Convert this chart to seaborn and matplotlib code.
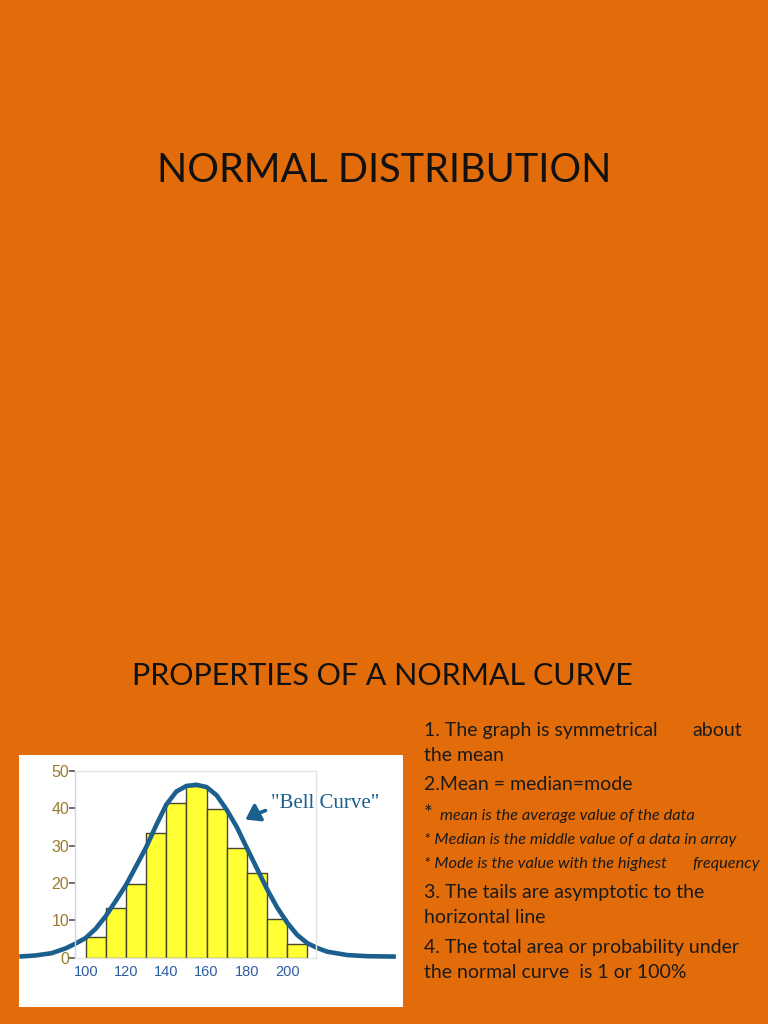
import matplotlib
matplotlib.use("Agg")
import matplotlib.pyplot as plt
from matplotlib.patches import Rectangle
import numpy as np
import pandas as pd
import seaborn as sns

# histogram (bin centre -> count)
bin_centres = [105, 115, 125, 135, 145, 155, 165, 175, 185, 195, 205]
counts = [5.5, 13.3, 19.7, 33.5, 41.3, 45.9, 39.7, 29.4, 22.7, 10.4, 3.8]
bin_edges = [100, 110, 120, 130, 140, 150, 160, 170, 180, 190, 200, 210]

# bell curve
curve_x = [67, 75, 83, 90, 95, 100, 105, 110, 115, 120, 125, 130, 135, 140,
           145, 150, 155, 160, 165, 170, 175, 180, 185, 190, 195, 200, 205,
           210, 215, 220, 230, 240, 254]
curve_y = [0.3, 0.6, 1.2, 2.5, 3.8, 5.3, 7.8, 11.2, 15.3, 19.5, 24.5, 29.6,
           35.5, 41.0, 44.5, 46.0, 46.3, 45.7, 43.5, 39.6, 35.0, 29.4, 23.9,
           18.4, 13.5, 9.4, 6.1, 3.9, 2.6, 1.6, 0.7, 0.4, 0.3]

x_ticks = [100, 120, 140, 160, 180, 200]
y_ticks = [0, 10, 20, 30, 40, 50]

title = "NORMAL DISTRIBUTION"
subtitle = "PROPERTIES OF A NORMAL CURVE"
body_lines = [
    ("1. The graph is symmetrical", "normal", 14, 736),
    ("the mean", "normal", 14, 761),
    ("2.Mean = median=mode", "normal", 14, 790),
    ("* Median is the middle value of a data in array", "italic", 11.8, 844),
    ("3. The tails are asymptotic to the", "normal", 14, 898),
    ("horizontal line", "normal", 14, 923),
    ("4. The total area or probability under", "normal", 14, 953),
    ("the normal curve  is 1 or 100%", "normal", 14, 978),
]

ORANGE = "#E36C0A"
BLUE = "#1B5F8E"
W, H = 768, 1024

sns.set_theme(style="white")
plt.rcParams["font.family"] = ["Lato", "DejaVu Sans"]

fig = plt.figure(figsize=(7.68, 10.24), dpi=100, facecolor=ORANGE)


def px(x, y):
    return x / W, 1 - y / H


# white picture box behind the chart
box = Rectangle(px(19, 1007), 384 / W, 252 / H, transform=fig.transFigure,
                facecolor="white", edgecolor="none", zorder=-5)
fig.add_artist(box)

left, top = px(75.3, 771)
_, bottom = px(0, 957.7)
ax = fig.add_axes([left, bottom, (315.7 - 75.3) / W, top - bottom], zorder=2)
ax.set_facecolor("white")

hist_df = pd.DataFrame({"value": bin_centres, "count": counts})
sns.histplot(data=hist_df, x="value", weights="count", bins=bin_edges,
             color="#FFFF33", edgecolor="#45452a", linewidth=1.0, alpha=1, ax=ax)

curve_df = pd.DataFrame({"x": curve_x, "y": curve_y})
sns.lineplot(data=curve_df, x="x", y="y", color=BLUE, linewidth=3.3, ax=ax)
for line in ax.lines:
    line.set_clip_on(False)
    line.set_solid_capstyle("butt")

ax.set_xlim(94.8, 214.2)
ax.set_ylim(0, 50)
ax.set_xticks(x_ticks)
ax.set_yticks(y_ticks)
ax.set_xlabel("")
ax.set_ylabel("")
ax.tick_params(axis="x", length=0, pad=5, labelsize=10.5, labelcolor="#2A5CA0")
ax.tick_params(axis="y", left=True, length=4, width=1.2, color="#555555", pad=0.5,
               labelsize=11.5, labelcolor="#9C7A2E")
for lab in ax.get_xticklabels() + ax.get_yticklabels():
    lab.set_fontfamily(["Liberation Sans", "DejaVu Sans"])
for side in ["top", "right", "bottom"]:
    ax.spines[side].set_color("#e4e4e4")
ax.spines["left"].set_color("#cfd6de")
for s in ax.spines.values():
    s.set_linewidth(1.0)

ax.annotate('"Bell Curve"', xy=(179.3, 37.0), xytext=(192.2, 41.4),
            fontsize=15, color=BLUE, family=["Liberation Serif", "DejaVu Serif"],
            ha="left", va="center", annotation_clip=False,
            arrowprops=dict(arrowstyle="-|>,head_length=0.55,head_width=0.38",
                            color=BLUE, lw=2.6, shrinkA=2, shrinkB=0,
                            connectionstyle="arc3,rad=0.15"))

# slide texts
fig.text(*px(384, 181.5), title, fontsize=28.5, color="#111111", ha="center", va="baseline")
fig.text(*px(382, 685), subtitle, fontsize=22, color="#111111", ha="center", va="baseline")
for text, style, size, y in body_lines:
    fig.text(*px(424, y), text, fontsize=size, style=style, color="#1a1a1a", va="baseline")
fig.text(*px(692, 736), "about", fontsize=14, color="#1a1a1a", va="baseline")
fig.text(*px(424, 820), "*", fontsize=15, color="#1a1a1a", va="baseline")
fig.text(*px(440, 820), "mean is the average value of the data", fontsize=11.8,
         style="italic", color="#1a1a1a", va="baseline")
fig.text(*px(424, 868), "* Mode is the value with the highest", fontsize=11.8,
         style="italic", color="#1a1a1a", va="baseline")
fig.text(*px(692, 868), "frequency", fontsize=11.8, style="italic", color="#1a1a1a",
         va="baseline")

fig.savefig("out.png", dpi=100, facecolor=ORANGE)
